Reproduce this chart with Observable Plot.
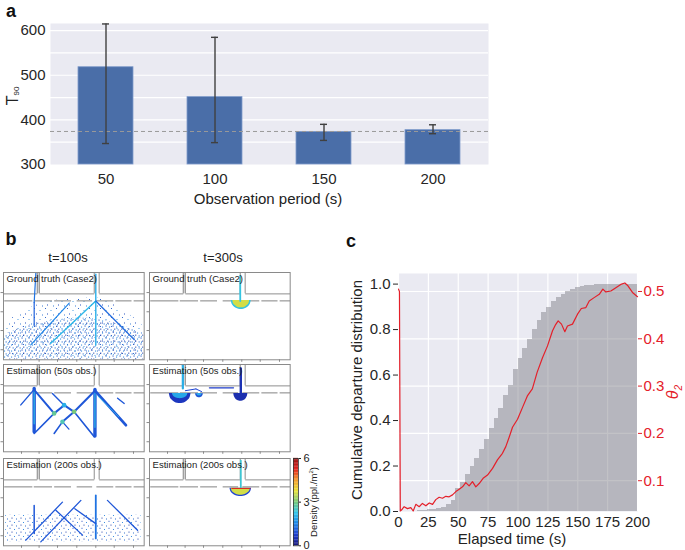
<!DOCTYPE html>
<html><head><meta charset="utf-8">
<script src="https://cdn.jsdelivr.net/npm/d3@7"></script>
<script src="https://cdn.jsdelivr.net/npm/@observablehq/plot@0.6"></script>
<style>
body{margin:0;background:#fff;font-family:"Liberation Sans",Arial,Helvetica,sans-serif;}
#root{position:relative;width:685px;height:550px;overflow:hidden;background:#fff;}
</style></head><body>
<svg width="0" height="0" style="position:absolute">
<defs>
<pattern id="spkDense" width="7" height="6" patternUnits="userSpaceOnUse">
<rect x="0.5" y="0.5" width="1.1" height="1.1" fill="#2450c0"/>
<rect x="4" y="1.5" width="1.1" height="1.1" fill="#3a8ee0"/>
<rect x="2.2" y="3.6" width="1.1" height="1.1" fill="#1d3ca8"/>
<rect x="5.6" y="4.4" width="1.1" height="1.1" fill="#2f6fd0"/>
<rect x="1" y="5" width="1" height="0.9" fill="#5aa8e6"/>
</pattern>
<pattern id="spkMid" width="9" height="7" patternUnits="userSpaceOnUse">
<rect x="0.5" y="0.8" width="1" height="1" fill="#2450c0"/>
<rect x="5" y="2" width="1" height="1" fill="#3a8ee0"/>
<rect x="2.5" y="4.6" width="1" height="1" fill="#1d3ca8"/>
<rect x="7" y="5.5" width="1" height="1" fill="#2f6fd0"/>
</pattern>
<pattern id="spkSparse" width="11" height="9" patternUnits="userSpaceOnUse">
<rect x="1" y="1" width="1" height="1" fill="#2f66cc"/>
<rect x="6.5" y="3" width="1" height="1" fill="#4a9ae0"/>
<rect x="3" y="6.5" width="1" height="1" fill="#2450c0"/>
<rect x="9" y="7.5" width="1" height="1" fill="#3a7ed8"/>
</pattern>
</defs></svg>
<div id="root"></div>
<script>
// ---------------- Panel a data ----------------
const periods = ["50", "100", "150", "200"];
const t90Mean = [518, 451, 373, 377];
const t90Lo = [347, 349, 354, 369];
const t90Hi = [615, 585, 390, 389];
const t90Truth = 374;
const t90Base = 300;
const t90Domain = [300, 616];
const t90Ticks = [300, 400, 500, 600];
const t90Grid = [350, 400, 450, 500, 550, 600];

// ---------------- Panel c data ----------------
const depBinWidth = 4;
const cumDeparture = [0, 0, 0.001, 0.002, 0.003, 0.005, 0.007, 0.01, 0.013, 0.018,
  0.03, 0.05, 0.10, 0.127, 0.163, 0.196, 0.234, 0.273, 0.317, 0.364,
  0.407, 0.453, 0.51, 0.555, 0.626, 0.674, 0.718, 0.758, 0.802, 0.839,
  0.875, 0.897, 0.922, 0.941, 0.956, 0.968, 0.978, 0.985, 0.991, 0.994,
  0.996, 0.997, 0.998, 0.999, 1, 1, 1, 1, 1, 1];
const thetaTime = [0, 0.8, 1.5, 2.5, 4.7, 7.5, 10.3, 12.3, 14.5, 17.3, 20, 22.9, 25.7, 28.5, 31.2, 34, 36.8, 39.6, 42.4, 45.2,
  48, 50.8, 53.6, 56.3, 59.1, 61.9, 64.7, 67.5, 70.8, 74.5, 78.7, 82.8, 87, 89.8, 92.6, 95.4, 99.6, 103.8, 108, 112,
  116, 120.5, 124.7, 128.9, 131.5, 133.6, 136.4, 139.2, 141.4, 145.6, 149.8, 153, 156.8, 159.6, 163.7, 168, 171, 173.5, 177.7, 181.9,
  186, 189.4, 192, 195.8, 200];
const thetaValue = [0.505, 0.5, 0.036, 0.038, 0.045, 0.041, 0.043, 0.036, 0.050, 0.045, 0.052, 0.047, 0.053, 0.050, 0.060, 0.065, 0.063, 0.067, 0.066, 0.070,
  0.077, 0.082, 0.087, 0.096, 0.089, 0.098, 0.087, 0.094, 0.105, 0.112, 0.126, 0.144, 0.158, 0.172, 0.192, 0.213, 0.230, 0.255, 0.280, 0.294,
  0.329, 0.360, 0.385, 0.417, 0.430, 0.438, 0.431, 0.415, 0.427, 0.431, 0.452, 0.464, 0.466, 0.480, 0.487, 0.494, 0.505, 0.499, 0.501, 0.508,
  0.515, 0.518, 0.512, 0.498, 0.489];
const timeDomain = [0, 200];
const timeTicks = [0, 25, 50, 75, 100, 125, 150, 175, 200];
const cumDomain = [0, 1.0466];
const cumTicks = [0, 0.2, 0.4, 0.6, 0.8, 1.0];
const thetaDomain = [0.0349, 0.538];
const thetaTicks = [0.1, 0.2, 0.3, 0.4, 0.5];

// ---------------- Panel b data (percent of panel width / height, y downward) ----------------
const columnTitles = ["t=100s", "t=300s"];
const panelTitles = ["Ground truth (Case2)", "Estimation (50s obs.)", "Estimation (200s obs.)"];
const roomWallX = [24, 25.5, 64.5, 68];
const roomStripX = [24, 25.5];
const roomBottomY = 24.5;
const roomLineX1 = [0, 25.5, 68];
const roomLineX2 = [24, 64.5, 100];
const corridorY = 32.5;
const corridorX1 = [0.5, 21.5, 36, 52, 66, 79.5, 92.5];
const corridorX2 = [20.5, 34.5, 48, 63, 78, 91, 100];
const panelTicksX = [12.8, 25.3, 38.4, 52.1, 65.6, 78.7, 92.4];
const panelTicksY = [23, 45, 66.5, 88.5];
// streaks: [x1, y1, x2, y2, density, thickness]
const streaksGT100 = [[23, 0, 21.8, 34.5, 1.3, 1.2], [21.8, 34.5, 21.8, 61, 1.1, 1.2], [65.6, 2, 65.6, 83, 2.0, 1.4],
  [46.7, 35, 19.4, 83, 1.5, 1.2], [65.6, 32.7, 33.6, 81, 2.1, 1.4], [65.6, 32.7, 93, 77, 1.2, 1.2]];
const streaksE50_100 = [
  [21.8, 27.5, 21.8, 77, 1.0, 3.4], [65, 28.6, 65, 82, 1.0, 3.4],
  [21.8, 31, 21.8, 68, 2.2, 1.1], [65, 32, 65, 72, 2.2, 1.1],
  [12.3, 46.3, 21.8, 28.5, 1.0, 1.4], [21.8, 29, 36, 56, 1.0, 2], [36, 56, 21.8, 79, 1.0, 1.6],
  [36, 56, 43.1, 46.6, 1.0, 2], [34.8, 33.2, 43.1, 46.6, 1.0, 1.4], [43.1, 46.6, 50.2, 54.2, 1.0, 2],
  [50.2, 54.2, 65, 30, 1.0, 2], [50.2, 54.2, 41.9, 65.7, 1.0, 2], [41.9, 65.7, 36, 79, 1.0, 1.6],
  [50.2, 54.2, 64.5, 82.8, 1.0, 1.6], [41.9, 65.7, 46.5, 74, 1.0, 1.3],
  [65, 30, 87, 69.5, 1.0, 2.8], [67, 36, 82, 60, 2.0, 0.9], [81.1, 38.6, 85.8, 44.6, 1.0, 1.4]];
const nodesE50_100 = [[36, 56, 2.8], [50.2, 54.2, 3.0], [41.9, 65.7, 2.6], [43.1, 46.6, 2.0]];
const streaksE200_100 = [[21.8, 53.8, 21.8, 86, 1.0, 1.5], [65.6, 42.4, 65.6, 91.6, 1.3, 1.8],
  [15.9, 93.5, 41.9, 50, 1.0, 1.3], [26.5, 95.5, 55, 48, 1.0, 1.3], [37.2, 59.4, 56.2, 87.8, 1.0, 1.3],
  [50.7, 57.5, 65.6, 74.6, 1.0, 1.3], [73.9, 48, 95.3, 82.2, 1.0, 1.3]];
const streaksGT300 = [[64.5, 3.8, 64.5, 32.7, 2.3, 1.8]];
const streaksE50_300 = [[23.7, 0.8, 23.7, 27.5, 2.0, 2.2], [42.6, 26.7, 59.7, 26.7, 0.7, 1.3],
  [64.9, 4.6, 64.9, 33.2, 0.5, 2.4], [25.5, 30, 33, 28, 0.8, 1], [33, 28, 37, 31, 0.8, 1]];
const streaksE200_300 = [[64.9, 2.6, 64.9, 32.9, 2.4, 1.8], [58.5, 34.3, 71.5, 34.3, 5.3, 1]];
// blobs: [cx, cy, rx, ry, density]
const blobsGT300 = [[65.2, 32, 7.1, 10.4, 2.3], [65.2, 32, 6, 8.5, 3.6]];
const blobsE50_300 = [[21.8, 33.2, 7.7, 11.4, 0.6], [21.8, 33.2, 5.5, 6, 1.9], [35.5, 33.5, 2.8, 4.6, 1.0],
  [35.5, 33.5, 1.8, 2.5, 2.0], [64.9, 33.2, 5, 9, 0.45]];
const blobsE200_300 = [[64.9, 34, 7.7, 9.5, 0.8], [64.9, 34, 6.8, 8, 3.6]];
const blobProfileX = [-1, -0.92, -0.75, -0.5, -0.25, 0, 0.25, 0.5, 0.75, 0.92, 1];
const blobProfileDepth = [0, 0.4, 0.66, 0.87, 0.97, 1, 0.97, 0.87, 0.66, 0.4, 0];
// scatter regions: x, top, bottom
const scatterGTSparseX = [0, 12, 33.6, 50, 65.6, 80, 88, 100];
const scatterGTSparseTop = [60, 46, 33, 30, 29, 38, 46, 62];
const scatterGTDenseX = [0, 15, 35, 55, 75, 90, 100];
const scatterGTDenseTop = [72, 62, 55, 52, 56, 64, 72];
const scatterE200X = [1.6, 97.7];
const scatterE200Top = [65, 65];
const scatterE200Bottom = [96, 96];
const densityDomain = [0, 6];
const densityTicks = [0, 3, 6];
const densityLevels = d3.range(0, 6, 0.1);
const jetStops = ["#17177a", "#1f3fd0", "#1f86e8", "#30c4e8", "#78c97a", "#e9e23a", "#f49a2a", "#e2231f", "#8f0c0c"];

// ---------------- helpers ----------------
const FONT = '"Liberation Sans", Arial, Helvetica, sans-serif';
const root = document.getElementById("root");
function place(el, left, top) {
  el.style.position = "absolute"; el.style.left = left + "px"; el.style.top = top + "px";
  root.appendChild(el); return el;
}
function label(html, cx, cy, o = {}) {
  const d = document.createElement("div");
  d.innerHTML = html;
  Object.assign(d.style, {
    position: "absolute", left: cx + "px", top: cy + "px",
    transform: "translate(-50%,-50%)" + (o.rotate ? " rotate(-90deg)" : ""),
    whiteSpace: "nowrap", fontSize: (o.size || 14) + "px", color: o.color || "#222",
    fontWeight: o.bold ? "bold" : "normal", fontStyle: o.italic ? "italic" : "normal",
    lineHeight: "1.1", fontFamily: FONT
  });
  root.appendChild(d);
}
const jet = d3.piecewise(d3.interpolateRgb, jetStops);

// ---------------- Panel a ----------------
const aRows = periods.map((p, i) => ({p, m: t90Mean[i], lo: t90Lo[i], hi: t90Hi[i]}));
const errStyle = {stroke: "#404040", strokeWidth: 1.4};
const plotA = Plot.plot({
  width: 500, height: 210, marginLeft: 50, marginRight: 12, marginTop: 23, marginBottom: 46,
  style: {fontFamily: FONT, fontSize: "15px", color: "#262626", background: "transparent"},
  x: {domain: periods, paddingInner: 0.5, paddingOuter: 0.25, label: null},
  y: {domain: t90Domain, label: null},
  marks: [
    Plot.frame({fill: "#EAEAF2", stroke: null}),
    Plot.gridY(t90Grid, {stroke: "white", strokeOpacity: 1, strokeWidth: 1.2}),
    Plot.barY(aRows, {x: "p", y1: t90Base, y2: "m", fill: "#4a6ea8", stroke: "#7f9bcb", strokeWidth: 0.8}),
    Plot.ruleY([t90Truth], {stroke: "#9a9a9a", strokeDasharray: "4,3", strokeWidth: 1}),
    Plot.ruleX(aRows, {x: "p", y1: "lo", y2: "hi", ...errStyle}),
    Plot.tickY(aRows, {x: "p", y: "lo", insetLeft: 24, insetRight: 24, ...errStyle}),
    Plot.tickY(aRows, {x: "p", y: "hi", insetLeft: 24, insetRight: 24, ...errStyle}),
    Plot.axisX({tickSize: 0, tickPadding: 9, label: null}),
    Plot.axisY(t90Ticks, {tickSize: 0, tickPadding: 5, label: null})
  ]
});
place(plotA, 0, 0);
label("a", 11, 12, {bold: true, size: 18, color: "#111"});
label("T<sub style='font-size:8px;vertical-align:-1px'>90</sub>", 13, 96, {rotate: true, size: 16});
label("Observation period (s)", 268, 199, {size: 15});

// ---------------- Panel c ----------------
const depRows = cumDeparture.map((v, i) => ({t0: i * depBinWidth, t1: (i + 1) * depBinWidth, v}));
const thetaRows = thetaTime.map((t, i) => ({t, v: thetaValue[i]}));
const cDims = {width: 345, height: 295, marginLeft: 58, marginRight: 48, marginTop: 18, marginBottom: 39};
const cStyle = {fontFamily: FONT, fontSize: "15px", color: "#262626", background: "transparent"};
const plotC1 = Plot.plot({
  ...cDims, style: cStyle,
  x: {domain: timeDomain, axis: null}, y: {domain: thetaDomain, axis: null},
  marks: [
    Plot.frame({fill: "#EAEAF2", stroke: null}),
    Plot.gridX(timeTicks, {stroke: "white", strokeOpacity: 1, strokeWidth: 1.2}),
    Plot.gridY(thetaTicks, {stroke: "white", strokeOpacity: 1, strokeWidth: 1.2})
  ]
});
place(plotC1, 340, 255);
const plotC2 = Plot.plot({
  ...cDims, style: cStyle,
  x: {domain: timeDomain}, y: {domain: cumDomain},
  marks: [
    Plot.rectY(depRows, {x1: "t0", x2: "t1", y: "v", fill: "#6e6e76", fillOpacity: 0.42, inset: 0, shapeRendering: "crispEdges"}),
    Plot.axisX(timeTicks, {tickSize: 0, tickPadding: 5, label: null}),
    Plot.axisY(cumTicks, {tickSize: 5, tickPadding: 3, tickFormat: d3.format(".1f"), label: null})
  ]
});
place(plotC2, 340, 255);
const plotC3 = Plot.plot({
  ...cDims, style: cStyle,
  x: {domain: timeDomain, axis: null}, y: {domain: thetaDomain},
  marks: [
    Plot.line(thetaRows, {x: "t", y: "v", stroke: "#e4202a", strokeWidth: 1.2}),
    Plot.axisY(thetaTicks, {anchor: "right", tickSize: 4, tickPadding: 2, tickFormat: d3.format(".1f"), color: "#e4202a", label: null})
  ]
});
place(plotC3, 340, 255);
label("c", 351, 242, {bold: true, size: 18, color: "#111"});
label("Cumulative departure distribution", 357, 390, {rotate: true, size: 15});
label("θ<sub style='font-size:10px'>2</sub>", 674, 392, {rotate: true, size: 16, italic: true, color: "#e4202a"});
label("Elapsed time (s)", 512, 539, {size: 15});

// ---------------- Panel b ----------------
label("b", 11, 240, {bold: true, size: 18, color: "#111"});
label(columnTitles[0], 68, 258, {size: 13});
label(columnTitles[1], 223, 258, {size: 13});
const PW = 140.7, PH = 87.3, PM = {l: 3, r: 1, t: 1, b: 4};
const colLeft = [2.7, 149.3];
const rowTop = [271.7, 364.4, 457.7];
function blobArea(blobs) {
  const out = [];
  blobs.forEach((b, k) => blobProfileX.forEach((px, j) => out.push({
    id: k, x: b[0] + px * b[2], y1: b[1], y2: b[1] + blobProfileDepth[j] * b[3], d: b[4]})));
  return out;
}
function densityPanel(title, o) {
  const marks = [Plot.frame({fill: "white", stroke: null})];
  if (o.scatter) o.scatter.forEach(s => marks.push(
    Plot.areaY(s.x.map((x, i) => ({x, y1: s.top[i], y2: s.bottom ? s.bottom[i] : 100})),
      {x: "x", y1: "y1", y2: "y2", fill: s.fill, curve: "monotone-x"})));
  marks.push(
    Plot.rect([roomStripX], {x1: d => d[0], x2: d => d[1], y1: 0, y2: roomBottomY, fill: "#d6d6d6"}),
    Plot.ruleX(roomWallX, {y1: 0, y2: roomBottomY, stroke: "#8f8f8f", strokeWidth: 1}),
    Plot.link(roomLineX1.map((x, i) => [x, roomLineX2[i]]), {x1: d => d[0], x2: d => d[1], y1: roomBottomY, y2: roomBottomY, stroke: "#8f8f8f", strokeWidth: 1}),
    Plot.link(corridorX1.map((x, i) => [x, corridorX2[i]]), {x1: d => d[0], x2: d => d[1], y1: corridorY, y2: corridorY, stroke: "#8f8f8f", strokeWidth: 1.1})
  );
  if (o.blobs) marks.push(Plot.areaY(blobArea(o.blobs), {x: "x", y1: "y1", y2: "y2", z: "id", fill: "d", curve: "natural"}));
  if (o.streaks) marks.push(Plot.link(o.streaks, {x1: d => d[0], y1: d => d[1], x2: d => d[2], y2: d => d[3], stroke: d => d[4], strokeWidth: d => d[5], strokeLinecap: "round"}));
  if (o.nodes) marks.push(Plot.dot(o.nodes, {x: d => d[0], y: d => d[1], fill: d => d[2], r: 2.3}));
  marks.push(
    Plot.frame({stroke: "#8a8a8a", strokeWidth: 1}),
    Plot.axisX(panelTicksX, {tickSize: 2.5, tickFormat: () => "", stroke: "#8a8a8a", label: null}),
    Plot.axisY(panelTicksY, {tickSize: 2.5, tickFormat: () => "", stroke: "#8a8a8a", label: null}),
    Plot.text([title], {frameAnchor: "top-left", dx: 3, dy: 3, fontSize: 9.6, fill: "#222"})
  );
  return Plot.plot({
    width: PW + PM.l + PM.r, height: PH + PM.t + PM.b,
    marginLeft: PM.l, marginRight: PM.r, marginTop: PM.t, marginBottom: PM.b,
    style: {fontFamily: FONT, fontSize: "10px", background: "transparent", overflow: "visible"},
    x: {domain: [0, 100]}, y: {domain: [0, 100], reverse: true},
    color: {domain: densityDomain, interpolate: jet},
    marks
  });
}
const panelSpecs = [
  [0, 0, {scatter: [{x: scatterGTSparseX, top: scatterGTSparseTop, fill: "url(#spkSparse)"}, {x: scatterGTDenseX, top: scatterGTDenseTop, fill: "url(#spkDense)"}], streaks: streaksGT100}],
  [1, 0, {streaks: streaksE50_100, nodes: nodesE50_100}],
  [2, 0, {scatter: [{x: scatterE200X, top: scatterE200Top, bottom: scatterE200Bottom, fill: "url(#spkMid)"}], streaks: streaksE200_100}],
  [0, 1, {streaks: streaksGT300, blobs: blobsGT300}],
  [1, 1, {streaks: streaksE50_300, blobs: blobsE50_300}],
  [2, 1, {streaks: streaksE200_300, blobs: blobsE200_300}]
];
panelSpecs.forEach(([r, c, o]) => place(densityPanel(panelTitles[r], o), colLeft[c] - PM.l, rowTop[r] - PM.t));

// colour bar
const cbPlot = Plot.plot({
  width: 5 + 16, height: PH + 12, marginLeft: 0, marginRight: 16, marginTop: 6, marginBottom: 6,
  style: {fontFamily: FONT, fontSize: "11px", color: "#222", background: "transparent"},
  x: {domain: [0, 1], axis: null}, y: {domain: densityDomain},
  color: {domain: densityDomain, interpolate: jet},
  marks: [
    Plot.rect(densityLevels, {x1: 0, x2: 1, y1: d => d, y2: d => d + 0.11, fill: d => d + 0.05}),
    Plot.frame({stroke: "#333", strokeWidth: 0.8}),
    Plot.axisY(densityTicks, {anchor: "right", tickSize: 2, tickPadding: 3, label: null})
  ]
});
place(cbPlot, 292.7, rowTop[2] - 6);
label("Density (ppl./m<sup style='font-size:6px'>2</sup>)", 314, 502, {rotate: true, size: 9.5});
</script>
</body></html>
